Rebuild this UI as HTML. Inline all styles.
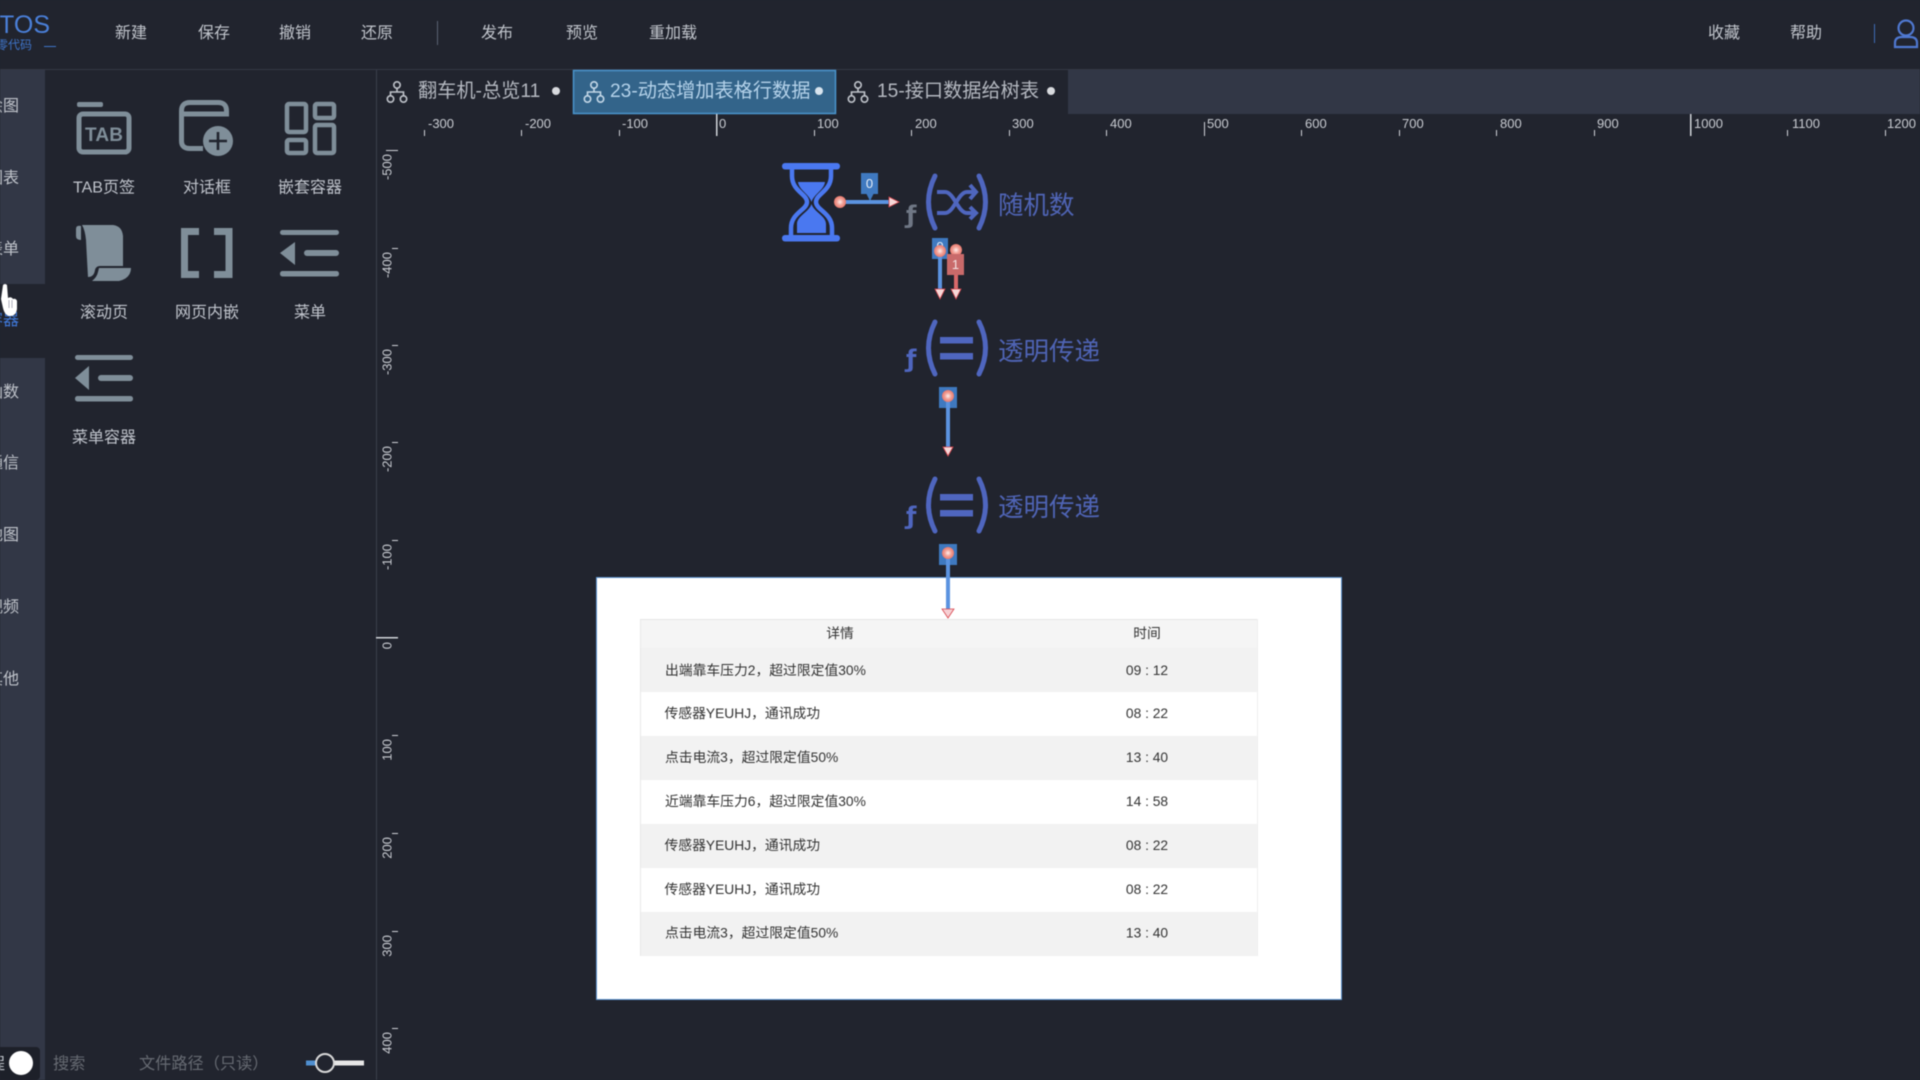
<!DOCTYPE html>
<html>
<head>
<meta charset="utf-8">
<style>
html,body{margin:0;padding:0;background:#21242e;width:1920px;height:1080px;overflow:hidden}
svg{display:block;filter:blur(0.4px)}
text{font-family:"Liberation Sans","Noto Sans CJK SC",sans-serif}
.tb{font-size:16px;fill:#c0c4cb;text-anchor:middle}
.side{font-size:16px;fill:#c0c4cb;text-anchor:end}
.lab{font-size:16px;fill:#c0c4cc;text-anchor:middle}
.tab{font-size:19.2px;fill:#b4b8c0}
.rt{font-size:13px;fill:#c9ccd2}
.rl{font-size:13px;fill:#c9ccd2;text-anchor:end}
.fn{font-size:25.5px;fill:#4f64b5}
.td{font-size:13.8px;fill:#333}
.tc{font-size:13.8px;fill:#333;text-anchor:middle}
.ic{fill:#7f8e99}
.is{fill:none;stroke:#7f8e99;stroke-width:5}
.par{fill:none;stroke:#4f66bf;stroke-width:5;stroke-linecap:round}
.f{font-family:"DejaVu Sans",sans-serif;font-weight:bold;font-size:24px}
</style>
</head>
<body>
<svg width="1920" height="1080" viewBox="0 0 1920 1080" xmlns="http://www.w3.org/2000/svg">
<defs>
<radialGradient id="dot"><stop offset="0" stop-color="#fff0ee"/><stop offset="0.5" stop-color="#f2a59c"/><stop offset="1" stop-color="#e8786c"/></radialGradient>
<g id="net" fill="none" stroke-width="1.6">
<circle cx="0" cy="-7" r="3.2"/><circle cx="-6.5" cy="7" r="3.2"/><circle cx="6.5" cy="7" r="3.2"/>
<path d="M0 -4V0M-6.5 4V0H6.5V4"/>
</g>
</defs>
<rect width="1920" height="1080" fill="#21242e"/>
<!-- top bar -->
<rect x="0" y="69" width="1920" height="1" fill="#343844"/>
<text x="50" y="33" font-size="25" fill="#4a7fd8" text-anchor="end">PTOS</text>
<text x="32" y="49" font-size="12" fill="#3f74c8" text-anchor="end">零代码</text>
<rect x="44" y="46" width="12" height="1" fill="#3f74c8"/>
<text class="tb" x="131" y="38">新建</text>
<text class="tb" x="214" y="38">保存</text>
<text class="tb" x="295" y="38">撤销</text>
<text class="tb" x="377" y="38">还原</text>
<rect x="437" y="21" width="1" height="24" fill="#5a6272"/>
<text class="tb" x="497" y="38">发布</text>
<text class="tb" x="582" y="38">预览</text>
<text class="tb" x="673" y="38">重加载</text>
<text class="tb" x="1724" y="38">收藏</text>
<text class="tb" x="1806" y="38">帮助</text>
<rect x="1874" y="24" width="1" height="19" fill="#3e6cb8"/>
<g fill="none" stroke="#4f78d0" stroke-width="2.2"><circle cx="1906" cy="28" r="7.5"/><path d="M1895 47V43Q1895 37 1902 37H1910Q1917 37 1917 43V47Z"/></g>

<!-- left strip -->
<rect x="0" y="70" width="45" height="214" fill="#323746"/>
<rect x="0" y="358" width="45" height="722" fill="#323746"/>
<text class="side" x="19" y="111">绘图</text>
<text class="side" x="19" y="183">图表</text>
<text class="side" x="19" y="254">表单</text>
<text class="side" x="19" y="325" style="fill:#3f78d8">容器</text>
<text class="side" x="19" y="397">函数</text>
<text class="side" x="19" y="468">通信</text>
<text class="side" x="19" y="540">地图</text>
<text class="side" x="19" y="612">视频</text>
<text class="side" x="19" y="684">其他</text>
<!-- cursor -->
<path d="M3 285Q5 283 7 285L8 298Q11 296 13 299Q16 298 17 301V309Q16 316 10 316Q5 316 3 308L1 299Z" fill="#fff"/>
<path d="M9 300V308M12 300V308" stroke="#99a" stroke-width="0.8"/>

<!-- component icons -->
<rect class="ic" x="77" y="102" width="26" height="5" rx="2"/>
<rect class="is" x="79" y="114" width="50" height="38" rx="4"/>
<text x="104" y="141" font-size="19" font-weight="bold" fill="#7f8e99" text-anchor="middle" textLength="38">TAB</text>

<path class="is" d="M215 102.500H190Q181.500 102.500 181.500 111V141Q181.500 148.500 190 148.500H203M181.500 114H226.500V111Q226.500 102.500 218 102.500H210"/>
<circle class="ic" cx="218" cy="141" r="15"/>
<path d="M218 132V150M209 141H227" stroke="#21242e" stroke-width="2.600"/>

<g class="is" style="stroke-width:4.500">
<rect x="287" y="104" width="19" height="28" rx="2"/>
<rect x="315" y="104" width="19" height="14" rx="2"/>
<rect x="287" y="140" width="19" height="13" rx="2"/>
<rect x="315" y="125" width="19" height="28" rx="2"/>
</g>

<path class="ic" d="M76 229Q76 225 81 226V240Q76 240 76 236ZM82 225H113Q122 226 123 236V266H100Q96 266 95 270Q94 277 88 277Q87 260 86 240Q85 230 82 225ZM99 268H131Q131 278 119 281H92Q97 277 98 272Z"/>

<path d="M199 231.500H184.500V274.500H199M214 231.500H229V274.500H214" fill="none" stroke="#7f8e99" stroke-width="7"/>

<g class="ic">
<rect x="280" y="230" width="59" height="5" rx="2.500"/><polygon points="295,242 295,265 280,253"/><rect x="304" y="250" width="35" height="6" rx="3"/><rect x="280" y="271" width="59" height="5.500" rx="2.500"/>
<rect x="75" y="355" width="58" height="5" rx="2.500"/><polygon points="89,366 89,390 75,378"/><rect x="98" y="375" width="35" height="6" rx="3"/><rect x="75" y="396" width="58" height="5.500" rx="2.500"/>
</g>

<text class="lab" x="104" y="192.500">TAB页签</text>
<text class="lab" x="207" y="192.500">对话框</text>
<text class="lab" x="310" y="192.500">嵌套容器</text>
<text class="lab" x="104" y="317.500">滚动页</text>
<text class="lab" x="207" y="317.500">网页内嵌</text>
<text class="lab" x="310" y="317.500">菜单</text>
<text class="lab" x="104" y="442.500">菜单容器</text>

<!-- bottom bar -->
<rect x="-8" y="1047" width="48" height="33" rx="4" fill="#1d2029"/>
<text x="5" y="1069" font-size="16" fill="#c0c4cb" text-anchor="end">程</text>
<circle cx="21" cy="1063" r="12" fill="#fff"/>
<text x="53" y="1069" font-size="16.200" fill="#666a72">搜索</text>
<text x="139" y="1069" font-size="16.200" fill="#666a72">文件路径（只读）</text>
<rect x="306" y="1060.500" width="58" height="5" fill="#e6e6e6"/>
<rect x="306" y="1060.500" width="12" height="5" fill="#4f8fd0"/>
<circle cx="325" cy="1063" r="9" fill="#21242e" stroke="#d8d8d8" stroke-width="2"/>

<!-- tabs -->
<rect x="376" y="70" width="1" height="1010" fill="#3a3f4c"/>
<rect x="1068" y="70" width="852" height="44" fill="#323746"/>
<rect x="573.500" y="70.500" width="262" height="43" fill="#33648a" stroke="#4a94cc" stroke-width="1.500"/>
<use href="#net" x="397" y="92" stroke="#c0c4cb"/>
<text class="tab" x="418" y="97">翻车机-总览11</text>
<circle cx="556" cy="91" r="4" fill="#d8dade"/>
<use href="#net" x="594" y="92" stroke="#c4d8e8"/>
<text class="tab" x="610" y="97" style="fill:#b4d2ea">23-动态增加表格行数据</text>
<circle cx="819" cy="91" r="4" fill="#d8e4ee"/>
<use href="#net" x="858" y="92" stroke="#c0c4cb"/>
<text class="tab" x="877" y="97">15-接口数据给树表</text>
<circle cx="1051" cy="91" r="4" fill="#d8dade"/>

<!-- top ruler -->
<g fill="#d0d3d8">
<rect x="424" y="130" width="1" height="6"/><rect x="521" y="130" width="1" height="6"/><rect x="619" y="130" width="1" height="6"/><rect x="716" y="114" width="1.500" height="22"/><rect x="814" y="130" width="1" height="6"/><rect x="911" y="130" width="1" height="6"/><rect x="1009" y="130" width="1" height="6"/><rect x="1106" y="130" width="1" height="6"/><rect x="1204" y="122" width="1" height="14"/><rect x="1301" y="130" width="1" height="6"/><rect x="1399" y="130" width="1" height="6"/><rect x="1496" y="130" width="1" height="6"/><rect x="1594" y="130" width="1" height="6"/><rect x="1690" y="114" width="1.500" height="22"/><rect x="1787" y="130" width="1" height="6"/><rect x="1885" y="130" width="1" height="6"/>
</g>
<text class="rt" x="428" y="128">-300</text><text class="rt" x="525" y="128">-200</text><text class="rt" x="622" y="128">-100</text><text class="rt" x="719" y="128">0</text><text class="rt" x="817" y="128">100</text><text class="rt" x="915" y="128">200</text><text class="rt" x="1012" y="128">300</text><text class="rt" x="1110" y="128">400</text><text class="rt" x="1207" y="128">500</text><text class="rt" x="1305" y="128">600</text><text class="rt" x="1402" y="128">700</text><text class="rt" x="1500" y="128">800</text><text class="rt" x="1597" y="128">900</text><text class="rt" x="1694" y="128">1000</text><text class="rt" x="1792" y="128">1100</text><text class="rt" x="1887" y="128">1200</text>

<!-- left ruler -->
<g fill="#d0d3d8">
<rect x="386" y="150" width="12" height="1"/><rect x="392" y="248" width="6" height="1"/><rect x="392" y="345" width="6" height="1"/><rect x="392" y="442" width="6" height="1"/><rect x="392" y="540" width="6" height="1"/><rect x="376" y="637" width="22" height="1.500"/><rect x="392" y="735" width="6" height="1"/><rect x="392" y="833" width="6" height="1"/><rect x="392" y="931" width="6" height="1"/><rect x="392" y="1028" width="6" height="1"/>
</g>
<text class="rl" transform="translate(391.500,154) rotate(-90)">-500</text>
<text class="rl" transform="translate(391.500,252) rotate(-90)">-400</text>
<text class="rl" transform="translate(391.500,349) rotate(-90)">-300</text>
<text class="rl" transform="translate(391.500,446) rotate(-90)">-200</text>
<text class="rl" transform="translate(391.500,544) rotate(-90)">-100</text>
<text class="rl" transform="translate(391.500,642) rotate(-90)" text-anchor="end">0</text>
<text class="rl" transform="translate(391.500,739) rotate(-90)">100</text>
<text class="rl" transform="translate(391.500,837) rotate(-90)">200</text>
<text class="rl" transform="translate(391.500,935) rotate(-90)">300</text>
<text class="rl" transform="translate(391.500,1032) rotate(-90)">400</text>

<!-- hourglass -->
<g fill="#4a78f0">
<rect x="782" y="163" width="58" height="6.500" rx="3"/>
<rect x="782" y="235" width="58" height="6.500" rx="3"/>
<path d="M798 182H825C824 190 814 194 811.500 202C809 194 799 190 798 182Z"/>
<path d="M797 233V224C797 216 809 212 811.500 204C814 212 826 216 826 224V233Z"/>
</g>
<path d="M792 169V176C792 191 807 194 807 202C807 210 791 213 791 228V235M831 169V176C831 191 816 194 816 202C816 210 832 213 832 228V235" fill="none" stroke="#4a78f0" stroke-width="4.500"/>

<!-- connector 1: horizontal -->
<rect x="861" y="173" width="17" height="21" fill="#3f79c0"/>
<polygon points="866,193 874,193 870,201" fill="#3f79c0"/>
<text x="869.500" y="188" font-size="13" fill="#e6eef8" text-anchor="middle">0</text>
<rect x="840" y="200" width="50" height="4" fill="#5b93e0"/>
<polygon points="889,197 899,202 889,207" fill="#f6d8d8" stroke="#d8444c" stroke-width="0.800"/>
<circle cx="840" cy="202" r="6" fill="url(#dot)"/>

<!-- func 1 -->
<text class="f" x="906" y="223" fill="#6f7785">ƒ</text>
<path class="par" d="M935 176Q922 202 935 228M979 176Q992 202 979 228"/>
<g fill="none" stroke="#4f66bf" stroke-width="4">
<path d="M937 192H945C954 192 958 213 967 213H975M937 213H945C954 213 958 192 967 192H975"/>
<path d="M970 185L976 192L970 199M970 207L976 213L970 219"/>
</g>
<text class="fn" x="998" y="214">随机数</text>

<!-- connectors 2 -->
<rect x="932" y="238" width="16" height="21" fill="#3f79c0"/>
<text x="940" y="251" font-size="13" fill="#e6eef8" text-anchor="middle">0</text>
<rect x="938" y="251" width="4" height="40" fill="#5b93e0"/>
<polygon points="935,289 945,289 940,299" fill="#f6d8d8" stroke="#d8444c" stroke-width="0.800"/>
<circle cx="940" cy="251" r="6" fill="url(#dot)"/>
<rect x="954" y="250" width="4" height="41" fill="#d9686a"/>
<circle cx="956" cy="250" r="6" fill="url(#dot)"/>
<rect x="947" y="254" width="17" height="21" fill="#c96a6a"/>
<text x="955.500" y="269" font-size="13" fill="#f4e4e4" text-anchor="middle">1</text>
<polygon points="951,289 961,289 956,299" fill="#f6d8d8" stroke="#d8444c" stroke-width="0.800"/>

<!-- func 2 -->
<text class="f" x="906" y="367" fill="#4f66bf">ƒ</text>
<path class="par" d="M935 322Q922 348 935 374M979 322Q992 348 979 374"/>
<rect x="940" y="337" width="33" height="6.500" fill="#4f66bf"/><rect x="940" y="353" width="33" height="6.500" fill="#4f66bf"/>
<text class="fn" x="998" y="360">透明传递</text>

<!-- connector 3 -->
<rect x="939" y="387" width="18" height="21" fill="#3f79c0"/>
<rect x="946" y="396" width="4" height="52" fill="#5b93e0"/>
<polygon points="943,447 953,447 948,456" fill="#f6d8d8" stroke="#d8444c" stroke-width="0.800"/>
<circle cx="948" cy="396" r="6" fill="url(#dot)"/>

<!-- func 3 -->
<text class="f" x="906" y="524" fill="#4f66bf">ƒ</text>
<path class="par" d="M935 479Q922 505 935 531M979 479Q992 505 979 531"/>
<rect x="940" y="494" width="33" height="6.500" fill="#4f66bf"/><rect x="940" y="510" width="33" height="6.500" fill="#4f66bf"/>
<text class="fn" x="998" y="516">透明传递</text>

<!-- white panel -->
<rect x="596.500" y="577.500" width="745" height="422" fill="#fff" stroke="#5b93d0" stroke-width="1"/>
<!-- table -->
<rect x="640" y="619" width="618" height="337" fill="#fff"/>
<rect x="640" y="619" width="618" height="29" fill="#f5f5f5"/>
<rect x="640" y="648" width="618" height="44" fill="#f2f2f2"/>
<rect x="640" y="736" width="618" height="44" fill="#f2f2f2"/>
<rect x="640" y="824" width="618" height="44" fill="#f2f2f2"/>
<rect x="640" y="912" width="618" height="44" fill="#f2f2f2"/>
<rect x="640" y="619" width="618" height="1" fill="#e6e6e6"/>
<rect x="640" y="619" width="1" height="337" fill="#e8e8e8"/>
<rect x="1257" y="619" width="1" height="337" fill="#eeeeee"/>
<text class="tc" x="840" y="638">详情</text><text class="tc" x="1147" y="638">时间</text>
<text class="td" x="665" y="675">出端靠车压力2，超过限定值30%</text><text class="tc" x="1147" y="675">09 : 12</text>
<text class="td" x="664.500" y="718">传感器YEUHJ，通讯成功</text><text class="tc" x="1147" y="718">08 : 22</text>
<text class="td" x="665" y="762">点击电流3，超过限定值50%</text><text class="tc" x="1147" y="762">13 : 40</text>
<text class="td" x="665" y="806">近端靠车压力6，超过限定值30%</text><text class="tc" x="1147" y="806">14 : 58</text>
<text class="td" x="664.500" y="850">传感器YEUHJ，通讯成功</text><text class="tc" x="1147" y="850">08 : 22</text>
<text class="td" x="664.500" y="894">传感器YEUHJ，通讯成功</text><text class="tc" x="1147" y="894">08 : 22</text>
<text class="td" x="665" y="937.500">点击电流3，超过限定值50%</text><text class="tc" x="1147" y="937.500">13 : 40</text>

<!-- connector 4 -->
<rect x="939" y="544" width="18" height="21" fill="#3f79c0"/>
<rect x="946" y="553" width="4" height="57" fill="#5b93e0"/>
<polygon points="942,609 954,609 948,618" fill="#f6d0d4" stroke="#d8444c" stroke-width="0.800"/>
<circle cx="948" cy="553" r="6" fill="url(#dot)"/>
</svg>
</body>
</html>
